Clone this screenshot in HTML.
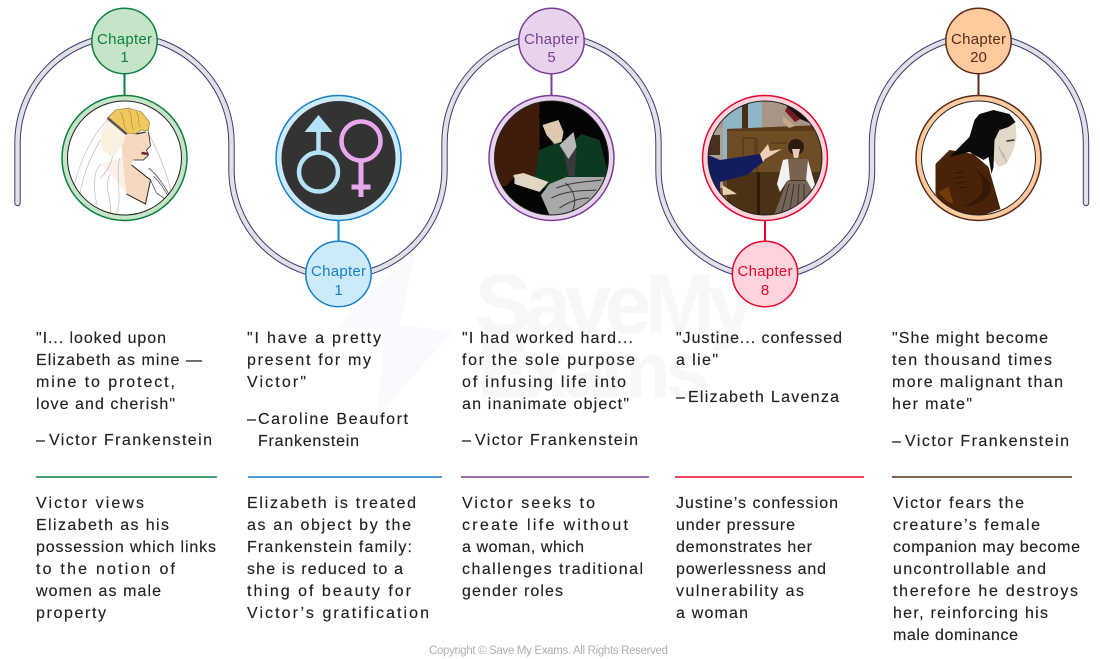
<!DOCTYPE html>
<html><head><meta charset="utf-8"><style>
html,body{margin:0;padding:0;background:#fff;width:1100px;height:659px;overflow:hidden}
svg{display:block}
.t text{font-family:"Liberation Sans",sans-serif;font-size:16px;fill:#222;stroke:#222;stroke-width:.15}
.c text{font-family:"Liberation Sans",sans-serif;font-size:15px;text-anchor:middle}
</style></head><body>
<svg width="1100" height="659" viewBox="0 0 1100 659" xmlns="http://www.w3.org/2000/svg">
<defs><clipPath id="cp"><circle r="57"/></clipPath></defs>
<!-- watermark -->
<polygon points="415,250 337,327 385,330 377,417 452,332 400,325" fill="#f9fafd"/>
<text x="475" y="333" font-family="Liberation Sans,sans-serif" font-weight="bold" font-size="84" fill="#f7f7f7" textLength="280">SaveMy</text>
<text x="477" y="397" font-family="Liberation Sans,sans-serif" font-weight="bold" font-size="78" fill="#f7f7f7" textLength="232">Exams</text>
<!-- track -->
<path d="M17.500 203V143A107 107 0 0 1 231.500 143V170A106.500 106.500 0 0 0 444.500 170V143A107 107 0 0 1 658.500 143V170A106.750 106.750 0 0 0 872 170V143A107 107 0 0 1 1086 143V203" fill="none" stroke="#3b3b7c" stroke-width="6.400" stroke-linecap="round"/>
<path d="M17.500 203V143A107 107 0 0 1 231.500 143V170A106.500 106.500 0 0 0 444.500 170V143A107 107 0 0 1 658.500 143V170A106.750 106.750 0 0 0 872 170V143A107 107 0 0 1 1086 143V203" fill="none" stroke="#e1e1e4" stroke-width="4.400" stroke-linecap="round"/>
<!-- connectors -->
<g stroke-width="2">
<line x1="124.500" y1="70" x2="124.500" y2="100" stroke="#0b8040"/>
<line x1="338.500" y1="215" x2="338.500" y2="245" stroke="#1580c8"/>
<line x1="551.500" y1="70" x2="551.500" y2="100" stroke="#7a3d96"/>
<line x1="765" y1="215" x2="765" y2="245" stroke="#e4062f"/>
<line x1="978.500" y1="70" x2="978.500" y2="100" stroke="#5a2d1a"/>
</g>
<!-- image 1: bride -->
<g transform="translate(124.500,158)">
<circle r="62.500" fill="#c6e5c8" stroke="#0b8040" stroke-width="1.500"/>
<circle r="57" fill="#fff"/>
<g clip-path="url(#cp)">
<path d="M-24 6L-1-1 2 36-14 16Z" fill="#fbf1e8"/>
<path d="M-17-38L-24-24-23-8-11-1-3-11 2-24Z" fill="#fcf1e0"/>
<path d="M-17-38C-30-25-45 0-52 35M-24-18C-35 0-45 25-45 45M-24 6C-34 18-30 40-25 55M-14 16C-22 30-12 40-14 57M-5 0C-9 20-2 40-8 57M23-26C35-5 42 15 47 35M-12-2C-14 10-20 15-24 20" fill="none" stroke="#c4c4c4" stroke-width=".8"/>
<path d="M2-24L24-26 26-12 22-8 24-3 19 2 9 2 7 7 26 22 21 46 2 36-1 9-3-11Z" fill="#f6d8bf"/>
<path d="M7 7L26 22 21 46 2 36" fill="none" stroke="#222" stroke-width="1"/>
<path d="M24-26L26-12 22-8 24-3 19 2 9 2" fill="none" stroke="#222" stroke-width=".8"/>
<path d="M-17-40L-9-48 4-50 17-46 25-36 24-27 17-28 11-24 6-25 2-24Z" fill="#f0c860" stroke="#8a6a28" stroke-width=".6"/>
<path d="M-4-46C0-40-2-34 2-28M4-48C9-42 5-35 9-28M12-46C16-40 12-35 16-31" fill="none" stroke="#b88c30" stroke-width=".7"/>
<path d="M-17-40L2-24" stroke="#555" stroke-width="2.500"/>
<path d="M17-5L24-4" stroke="#6e2530" stroke-width="2.500"/>
<path d="M12-24L21-26" stroke="#333" stroke-width="1.200"/>
<path d="M26 22L32 35 42 42M24 10C32 16 42 30 47 42M29 18C36 25 41 33 45 41" fill="none" stroke="#555" stroke-width=".8"/>
</g>
<circle r="57" fill="none" stroke="#222" stroke-width="1"/>
</g>
<!-- image 2 -->
<g transform="translate(338.500,158)">
<circle r="62.500" fill="#cdeafa" stroke="#1580c8" stroke-width="1.500"/>
<circle r="57" fill="#333"/>
<circle cx="-20" cy="14" r="19.500" fill="none" stroke="#b4e2f6" stroke-width="4.500"/>
<line x1="-20" y1="-28" x2="-20" y2="-5" stroke="#b4e2f6" stroke-width="4.500"/>
<polygon points="-20,-43 -34,-26 -6,-26" fill="#b4e2f6"/>
<circle cx="22.500" cy="-17" r="19.500" fill="none" stroke="#e9a8ee" stroke-width="4.500"/>
<line x1="22.500" y1="2" x2="22.500" y2="39" stroke="#e9a8ee" stroke-width="5"/>
<line x1="13" y1="29" x2="32" y2="29" stroke="#e9a8ee" stroke-width="5"/>
</g>
<!-- image 3 -->
<g transform="translate(551.500,158)">
<circle r="62.500" fill="#e8d3ec" stroke="#7a3d96" stroke-width="1.500"/>
<circle r="57" fill="#050505"/>
<g clip-path="url(#cp)">
<rect x="-57" y="-57" width="45" height="85" fill="#3f1d0a"/>
<path d="M-13-43L-5-52 12-52 18-41 17-21 10-26-5-23Z" fill="#050505"/>
<path d="M-16 16L-12-8 7-16 12-8 30-24 48-18 57 16 57 30-16 30Z" fill="#0b3a20"/>
<path d="M12-8L25-8 23 18 17 18Z" fill="#3a3a3a"/>
<path d="M8-13L22-26 25-11 17 1Z" fill="#b8b8b8"/>
<path d="M-9-33L7-38 12-26 10-16 3-14-5-23Z" fill="#dcc9b0"/>
<path d="M-2 26L15 19 53 19 45 39 22 56-2 57-12 39Z" fill="#a8a8a8"/>
<path d="M5 30C20 24 35 24 50 22M0 40C15 32 30 33 45 32M8 50C20 42 30 40 38 40M14 25C25 35 25 45 20 55" fill="none" stroke="#333" stroke-width="1"/>
<path d="M-38 17L-28 15-3 24-12 34-37 26Z" fill="#e2d6c4"/>
<path d="M-48 31L-37 19-37 26-12 34-2 57-50 60Z" fill="#050505"/>
</g>
<circle r="57" fill="none" stroke="#222" stroke-width="1"/>
</g>
<!-- image 4 -->
<g transform="translate(765,158)">
<circle r="62.500" fill="#ffd3dc" stroke="#e4062f" stroke-width="1.500"/>
<circle r="57" fill="#6b4a25"/>
<g clip-path="url(#cp)">
<rect x="-57" y="-57" width="114" height="30" fill="#a89585"/>
<rect x="-42" y="-57" width="39" height="60" fill="#8fb6c6"/>
<rect x="-23" y="-57" width="6" height="30" fill="#4a2e14"/>
<rect x="-57" y="-30" width="15" height="60" fill="#a9a294"/>
<path d="M-38-29L57-33V57H-38Z" fill="#6e4c24"/>
<path d="M-38-29L57-33V-27H-38Z" fill="#5a3a18"/>
<path d="M-38 14H57V57H-38Z" fill="#4b3215"/>
<path d="M-22-20H-10V5H-22ZM-8-20V15M5-15H22" fill="none" stroke="#4a3215" stroke-width="1"/>
<rect x="-8" y="14" width="3" height="43" fill="#2b1b0a"/>
<path d="M-57 10H-45V57H-57Z" fill="#9a9a90"/>
<path d="M22-51L35-39 57-30 57-57 20-57Z" fill="#1b1010"/>
<path d="M22-51L35-39 30-36 20-47Z" fill="#7a1620"/>
<path d="M18-42L30-32 24-30 18-36Z" fill="#c8a888"/>
<path d="M-55-23L-45-23-45-3-57-3Z" fill="#4a3020"/>
<path d="M-57-3L-45 2-5-4-2 4-18 17-45 24-45 34-57 34Z" fill="#141c60"/>
<path d="M-5-4L3-14 5-7 17-9 7-3 0 1-2 4Z" fill="#ecd0b8"/>
<path d="M-43 27L-28 36-42 37Z" fill="#ecd0b8"/>
<circle cx="31" cy="-11" r="8" fill="#2d1a10"/>
<path d="M27-9L35-9 33 0 29 0Z" fill="#e6cdb8"/>
<path d="M23 1L43 1 41 22 25 22Z" fill="#786350"/>
<path d="M18 2L23 1 25 22 22 23 15 34 12 26ZM43 2L50 27 47 32 41 22Z" fill="#f2f2f2"/>
<path d="M22 23H42L48 34 42 57H9Z" fill="#746559"/>
<path d="M24 26L16 57M29 26L24 57M34 26L32 57M39 26L39 57" stroke="#3a3028" stroke-width="1"/>
</g>
<circle r="57" fill="none" stroke="#222" stroke-width="1"/>
</g>
<!-- image 5 -->
<g transform="translate(978.500,158)">
<circle r="62.500" fill="#ffcb9e" stroke="#5a2d1a" stroke-width="1.500"/>
<circle r="57" fill="#fff"/>
<g clip-path="url(#cp)">
<path d="M-43 6L-29-8-5-4 10 9 22 51 5 57-29 56-43 36Z" fill="#4a2208"/>
<path d="M-40 34L-30 29-25 46-32 43Z" fill="#703c0c"/>
<path d="M-3 10C8 25 8 40-15 48-3 48 15 42 12 25Z" fill="#351806"/>
<path d="M-24 15L-16 14M-23 20L-15 19M-21 25L-13 24M-19 30L-12 29" stroke="#2a1305" stroke-width="1"/>
<path d="M21-29L37-36 38-21 35-8 28 6 20 9 15 2 16-18Z" fill="#e3d8c8"/>
<path d="M1-44L15-48 31-44 37-36 30-31 21-28 16-18 15 9 13 16 10-1 5 2-9-6-29-1-19-11-9-21-4-38Z" fill="#0b0b0b"/>
<path d="M28-17L36-18" stroke="#333" stroke-width="1.500"/>
<path d="M20-12L25 0M24-6L28 4" stroke="#999" stroke-width=".6"/>
</g>
<circle r="57" fill="none" stroke="#222" stroke-width="1"/>
</g>
<!-- chapter circles -->
<g class="c">
<circle cx="124.500" cy="41" r="32.700" fill="#c6e5c8" stroke="#0b8040" stroke-width="1.500"/>
<text x="124.500" y="44" fill="#0b8040" textLength="55">Chapter</text><text x="124.500" y="62" fill="#0b8040">1</text>
<circle cx="338.500" cy="274" r="32.700" fill="#cdeafa" stroke="#1580c8" stroke-width="1.500"/>
<text x="338.500" y="276" fill="#1580c8" textLength="55">Chapter</text><text x="338.500" y="295" fill="#1580c8">1</text>
<circle cx="551.500" cy="41" r="32.700" fill="#e8d3ec" stroke="#7a3d96" stroke-width="1.500"/>
<text x="551.500" y="44" fill="#7a3d96" textLength="55">Chapter</text><text x="551.500" y="62" fill="#7a3d96">5</text>
<circle cx="765" cy="274" r="32.700" fill="#ffd3dc" stroke="#e4062f" stroke-width="1.500"/>
<text x="765" y="276" fill="#e4062f" textLength="55">Chapter</text><text x="765" y="295" fill="#e4062f">8</text>
<circle cx="978.500" cy="41" r="32.700" fill="#ffcb9e" stroke="#5a2d1a" stroke-width="1.500"/>
<text x="978.500" y="44" fill="#5a2d1a" textLength="55">Chapter</text><text x="978.500" y="62" fill="#5a2d1a">20</text>
</g>
<!-- separators -->
<g stroke-width="1.500">
<line x1="36" y1="477" x2="217" y2="477" stroke="#0b8040"/>
<line x1="248" y1="477" x2="442" y2="477" stroke="#1580c8"/>
<line x1="461" y1="477" x2="649" y2="477" stroke="#7a3d96"/>
<line x1="675" y1="477" x2="864" y2="477" stroke="#e4062f"/>
<line x1="892" y1="477" x2="1072" y2="477" stroke="#5a2d1a"/>
</g>
<g class="t">
<text x="36" y="343" textLength="130">"I... looked upon</text>
<text x="36" y="365" textLength="166">Elizabeth as mine —</text>
<text x="36" y="387" textLength="139">mine to protect,</text>
<text x="36" y="409" textLength="139">love and cherish"</text>
<text x="36" y="445">–</text>
<text x="49" y="445" textLength="163">Victor Frankenstein</text>
<text x="36" y="508" textLength="108">Victor views</text>
<text x="36" y="530" textLength="133">Elizabeth as his</text>
<text x="36" y="552" textLength="180">possession which links</text>
<text x="36" y="574" textLength="139">to the notion of</text>
<text x="36" y="596" textLength="125">women as male</text>
<text x="36" y="618" textLength="70">property</text>

<text x="247" y="343" textLength="134">"I have a pretty</text>
<text x="247" y="365" textLength="124">present for my</text>
<text x="247" y="387" textLength="59">Victor"</text>
<text x="247" y="424">–</text>
<text x="258" y="424" textLength="150">Caroline Beaufort</text>
<text x="258" y="446" textLength="101">Frankenstein</text>
<text x="247" y="508" textLength="169">Elizabeth is treated</text>
<text x="247" y="530" textLength="164">as an object by the</text>
<text x="247" y="552" textLength="165">Frankenstein family:</text>
<text x="247" y="574" textLength="156">she is reduced to a</text>
<text x="247" y="596" textLength="164">thing of beauty for</text>
<text x="247" y="618" textLength="182">Victor’s gratification</text>

<text x="462" y="343" textLength="171">"I had worked hard...</text>
<text x="462" y="365" textLength="173">for the sole purpose</text>
<text x="462" y="387" textLength="164">of infusing life into</text>
<text x="462" y="409" textLength="167">an inanimate object"</text>
<text x="462" y="445">–</text>
<text x="475" y="445" textLength="163">Victor Frankenstein</text>
<text x="462" y="508" textLength="133">Victor seeks to</text>
<text x="462" y="530" textLength="166">create life without</text>
<text x="462" y="552" textLength="122">a woman, which</text>
<text x="462" y="574" textLength="181">challenges traditional</text>
<text x="462" y="596" textLength="101">gender roles</text>

<text x="676" y="343" textLength="166">"Justine... confessed</text>
<text x="676" y="365" textLength="42">a lie"</text>
<text x="676" y="402">–</text>
<text x="688" y="402" textLength="151">Elizabeth Lavenza</text>
<text x="676" y="508" textLength="162">Justine’s confession</text>
<text x="676" y="530" textLength="119">under pressure</text>
<text x="676" y="552" textLength="136">demonstrates her</text>
<text x="676" y="574" textLength="150">powerlessness and</text>
<text x="676" y="596" textLength="128">vulnerability as</text>
<text x="676" y="618" textLength="72">a woman</text>

<text x="892" y="343" textLength="156">"She might become</text>
<text x="892" y="365" textLength="160">ten thousand times</text>
<text x="892" y="387" textLength="171">more malignant than</text>
<text x="892" y="409" textLength="80">her mate"</text>
<text x="892" y="446">–</text>
<text x="905" y="446" textLength="164">Victor Frankenstein</text>
<text x="893" y="508" textLength="131">Victor fears the</text>
<text x="893" y="530" textLength="147">creature’s female</text>
<text x="893" y="552" textLength="187">companion may become</text>
<text x="893" y="574" textLength="153">uncontrollable and</text>
<text x="893" y="596" textLength="185">therefore he destroys</text>
<text x="893" y="618" textLength="155">her, reinforcing his</text>
<text x="893" y="640" textLength="125">male dominance</text>
</g>
<text x="429" y="654" font-family="Liberation Sans,sans-serif" font-size="11.500" fill="#b0b0b0" textLength="239">Copyright © Save My Exams. All Rights Reserved</text>
</svg>
</body></html>
